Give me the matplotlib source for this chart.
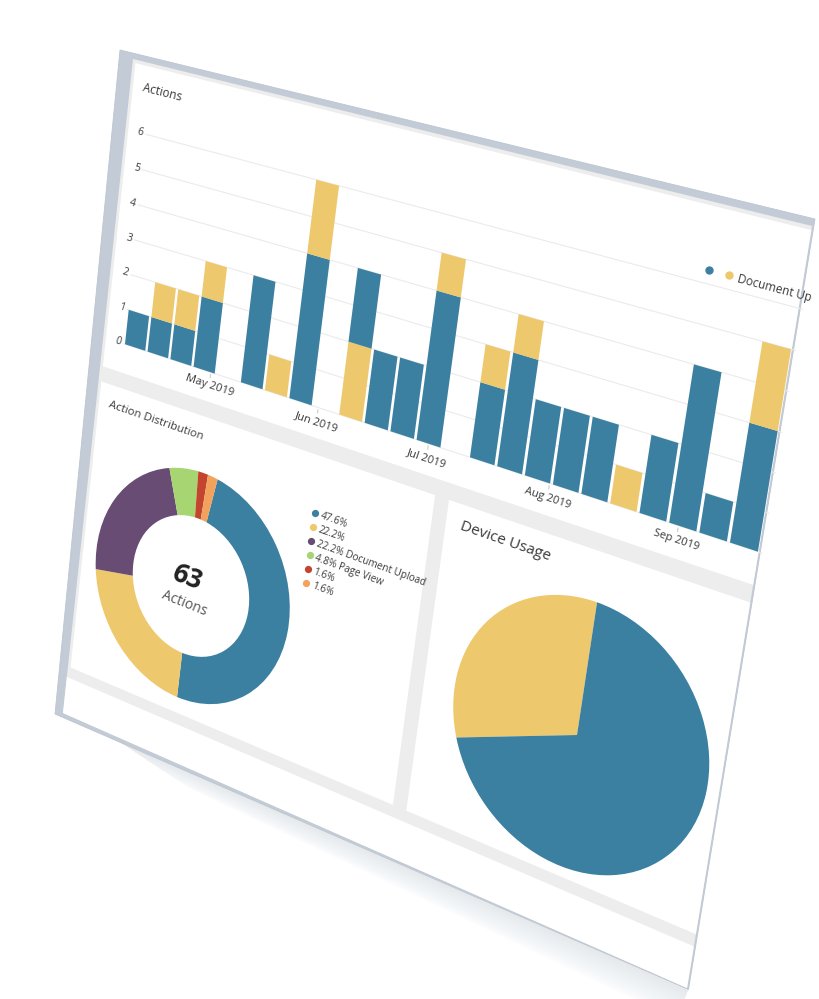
import numpy as np
import pandas as pd
import matplotlib
matplotlib.use("Agg")
import matplotlib.pyplot as plt
from matplotlib import transforms as mtransforms
from matplotlib.path import Path
from matplotlib.patches import Polygon, Rectangle

plt.rcParams['font.family'] = ['Open Sans', 'DejaVu Sans']

# ---------------- data ----------------
week_starts = pd.date_range("2019-04-08", periods=24, freq="7D")
blue_low = [1, 1, 1, 2, 0, 3, 0, 4, 0, 0, 2, 2, 4, 0, 2, 3, 2, 2, 2, 0, 2, 4, 1, 3]
yellow_mid = [0, 1, 1, 1, 0, 0, 1, 2, 0, 2, 0, 0, 1, 0, 1, 1, 0, 0, 0, 1, 0, 0, 0, 2]
blue_top = [0, 0, 0, 0, 0, 0, 0, 0, 0, 2, 0, 0, 0, 0, 0, 0, 0, 0, 0, 0, 0, 0, 0, 0]
y_ticks = [0, 1, 2, 3, 4, 5, 6]
month_starts = pd.to_datetime(["2019-05-01", "2019-06-01", "2019-07-01",
                               "2019-08-01", "2019-09-01"])
month_labels = ["May 2019", "Jun 2019", "Jul 2019", "Aug 2019", "Sep 2019"]
bar_legend_label = "Document Up"

dist_values = [30, 14, 14, 3, 1, 1]
dist_labels = ["47.6%", "22.2%", "22.2% Document Upload", "4.8% Page View", "1.6%", "1.6%"]
dist_total = "63"
dist_total_label = "Actions"
device_values = [31, 69]

titles = ["Actions", "Action Distribution", "Device Usage"]

BLUE = "#3b80a1"
YELLOW = "#eec86d"
PURPLE = "#694c74"
GREEN = "#a7d572"
RED = "#c4452d"
ORANGE = "#f2a25c"
dist_colors = [BLUE, YELLOW, PURPLE, GREEN, RED, ORANGE]
device_colors = [YELLOW, BLUE]
TXT = "#3a3a3a"

# ---------------- perspective set-up ----------------
W0, H0 = 1020.0, 1000.0
flat_corners = [(0, 0), (W0, 0), (W0, H0), (0, H0)]
face_img = [(133, 59), (812, 226), (687, 988), (63, 713)]
outer_img = [(120, 50), (815, 219), (688.5, 989.5), (55, 714)]


def solve_h(src, dst):
    A, b = [], []
    for (x, y), (X, Y) in zip(src, dst):
        A.append([x, y, 1, 0, 0, 0, -X * x, -X * y]); b.append(X)
        A.append([0, 0, 0, x, y, 1, -Y * x, -Y * y]); b.append(Y)
    h = np.linalg.solve(np.array(A, float), np.array(b, float))
    return np.append(h, 1.0).reshape(3, 3)


class Perspective(mtransforms.Transform):
    input_dims = 2
    output_dims = 2
    is_separable = False
    has_inverse = True

    def __init__(self, M):
        super().__init__()
        self.M = np.asarray(M, float)

    def transform_non_affine(self, values):
        v = np.asarray(values, float).reshape(-1, 2)
        p = v @ self.M[:, :2].T + self.M[:, 2]
        return p[:, :2] / p[:, 2:3]

    def transform_path_non_affine(self, path):
        return Path(self.transform_non_affine(path.vertices), path.codes)

    def inverted(self):
        return Perspective(np.linalg.inv(self.M))


Hm = solve_h(flat_corners, face_img)
P = Perspective(Hm)
Pinv = P.inverted()

fig = plt.figure(figsize=(8.2, 9.99), dpi=100)
fig.patch.set_facecolor("white")
ax = fig.add_axes([0, 0, 1, 1])
ax.set_xlim(0, 820)
ax.set_ylim(999, 0)
ax.axis("off")

T_face = P + ax.transData


def to_img(u, v):
    return P.transform(np.array([[u, v]]))[0]


def to_flat(x, y):
    return Pinv.transform(np.array([[x, y]]))[0]


def angle_at(u, v):
    a = to_img(u, v)
    b = to_img(u + 1.0, v)
    return np.degrees(np.arctan2(-(b[1] - a[1]), b[0] - a[0]))


def ftext(u, v, s, **kw):
    kw.setdefault("color", TXT)
    kw.setdefault("zorder", 5)
    return ax.text(u, v, s, transform=T_face, rotation=angle_at(u, v),
                   rotation_mode="anchor", **kw)


def itext(x, y, s, **kw):
    u, v = to_flat(x, y)
    return ftext(u, v, s, **kw)


# ---------------- card ----------------
for d in np.arange(2, 60, 3):
    ax.add_patch(Polygon([(120, 742), (688, 990), (688 - d * 0.2, 990 + d * 0.5),
                          (120 + d * 1.2, 742 + d * 0.8)], closed=True,
                         facecolor="#a0a6ae", alpha=0.010, lw=0, zorder=0.2))
ax.add_patch(Polygon(outer_img, closed=True, facecolor="#c3ccd6", edgecolor="#bcc6d1",
                     lw=0.6, zorder=0.5, joinstyle="round"))
face = Polygon([(0, 0), (W0, 0), (W0, H0), (0, H0)], closed=True, transform=T_face,
               facecolor="#ededed", lw=0, zorder=0.6)
ax.add_patch(face)

gap_l, gap_r = 0.559 * W0, 0.580 * W0
panel_kw = dict(transform=T_face, facecolor="white", lw=0, zorder=0.7)
ax.add_patch(Rectangle((5, 5), W0 - 5, 450, **panel_kw))               # Actions
ax.add_patch(Rectangle((5, 478), gap_l - 5, 447, **panel_kw))          # Action Distribution
ax.add_patch(Rectangle((gap_r, 478), W0 - gap_r, 447, **panel_kw))     # Device Usage
ax.add_patch(Rectangle((0, 942), W0, H0 - 942, **panel_kw))            # bottom strip

# ---------------- Actions bar chart ----------------
slot_w = 0.04017 * W0
u_first = 0.0572 * W0
v_base = 412.0
unit = 51.7
T_bar = mtransforms.Affine2D().scale(slot_w, -unit).translate(u_first, v_base) + T_face

x = ((week_starts - week_starts[0]).days / 7.0).to_numpy()
blue_low_a = np.array(blue_low, float)
yellow_a = np.array(yellow_mid, float)
blue_top_a = np.array(blue_top, float)

ax.hlines(y_ticks, -0.55, 23.6, transform=T_bar, colors="#ebebeb", lw=0.8, zorder=1)
bar_kw = dict(width=0.9, transform=T_bar, lw=0, zorder=2)
ax.bar(x, blue_low_a, color=BLUE, **bar_kw)
ax.bar(x, yellow_a, bottom=blue_low_a, color=YELLOW, **bar_kw)
ax.bar(x, blue_top_a, bottom=blue_low_a + yellow_a, color=BLUE, **bar_kw)

for t in y_ticks:
    ftext(u_first - 0.65 * slot_w, v_base - t * unit, str(t), ha="right", va="center",
          fontsize=7.5)

mx = ((month_starts - week_starts[0]).days / 7.0).to_numpy()
ax.vlines(mx, -0.05, -0.16, transform=T_bar, colors="#cccccc", lw=0.8, zorder=2)
for xm, lab in zip(mx, month_labels):
    ftext(u_first + xm * slot_w, v_base + 20, lab, ha="center", va="center", fontsize=8)

itext(143, 88, titles[0], ha="left", va="center", fontsize=8.5)

# legend of bar chart (cut by the card edge)
lu, lv = to_flat(709, 270)
ax.plot([lu], [lv], "o", ms=5, color=BLUE, transform=T_face, zorder=5)
ax.plot([lu + 0.026 * W0], [lv], "o", ms=5, color=YELLOW, transform=T_face, zorder=5)
lt = ftext(lu + 0.037 * W0, lv + 2, bar_legend_label, ha="left", va="center", fontsize=8.5)
lt.set_clip_path(face)

# ---------------- Action Distribution donut ----------------
du, dv = to_flat(190, 586)
r_d = 171
T_donut = mtransforms.Affine2D().scale(r_d, -r_d).translate(du, dv) + T_face
start = -90 + 360.0 * dist_values[0] / sum(dist_values)
ax.pie(dist_values, colors=dist_colors, startangle=start, counterclock=False,
       radius=1, center=(0, 0), labeldistance=None,
       wedgeprops=dict(width=0.4, transform=T_donut, lw=0, zorder=3))

itext(109, 405, titles[1], ha="left", va="center", fontsize=8.2)
itext(187, 577, dist_total, ha="center", va="center", fontsize=19, fontweight="bold",
      color="#222222")
itext(184, 603, dist_total_label, ha="center", va="center", fontsize=10, color="#555555")

gu, gv = to_flat(315, 513)
for i, (lab, col) in enumerate(zip(dist_labels, dist_colors)):
    vv = gv + i * 20.5
    ax.plot([gu], [vv], "o", ms=4.2, color=col, transform=T_face, zorder=5)
    ftext(gu + 9, vv + 1, lab, ha="left", va="center", fontsize=7.2)

# ---------------- Device Usage pie ----------------
pu, pv = to_flat(577, 735)
r_p = 183
T_pie = mtransforms.Affine2D().scale(r_p, -r_p).translate(pu, pv) + T_face
ax.pie(device_values, colors=device_colors, startangle=90, counterclock=True,
       radius=1, center=(0, 0), labeldistance=None,
       wedgeprops=dict(transform=T_pie, lw=0, zorder=3))

itext(460, 526, titles[2], ha="left", va="center", fontsize=11)

ax.set_xlim(0, 820)
ax.set_ylim(999, 0)
ax.axis("off")

fig.savefig("out.png", dpi=100, facecolor="white")
